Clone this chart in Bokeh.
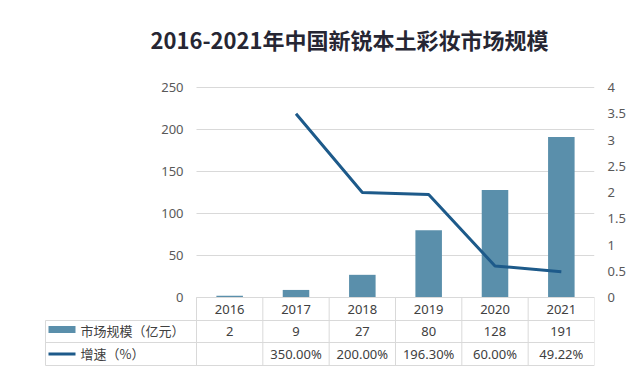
from bokeh.plotting import figure
from bokeh.models import Range1d, LinearAxis, FixedTicker, NumeralTickFormatter
from bokeh.embed import file_html
from bokeh.resources import INLINE
from bokeh.core.properties import value

# ---- data ----
years = [2016, 2017, 2018, 2019, 2020, 2021]
market = [2, 9, 27, 80, 128, 191]
growth_years = [2017, 2018, 2019, 2020, 2021]
growth = [3.5, 2.0, 1.963, 0.6, 0.4922]
left_ticks = [0, 50, 100, 150, 200, 250]
right_ticks = [0, 0.5, 1, 1.5, 2, 2.5, 3, 3.5, 4]
title_text = "2016-2021年中国新锐本土彩妆市场规模"
series_names = ["市场规模（亿元）", "增速（%）"]

# ---- style / layout (pixels in figure space) ----
BAR = "#5a8fab"
LINE = "#1d5a8a"
GRID = "#d9d9d9"
AXTXT = "#595959"
TBLTXT = "#404040"
FONT = "Noto Sans"
CJK = "Noto Sans CJK SC"

W, H = 640, 383
FL, FR = 196, 594      # plot area left/right
FT, FB = 87, 297       # plot area top/bottom
RB = W - FR            # right border for right axis
TBL_L = 45             # table left edge
ROW_PX = [23, 45, 68]  # table row lines below axis (px)

px_x = (FR - FL) / len(years)
x0 = years[0] - 0.5
x1 = years[-1] + 0.5
L0, L1 = left_ticks[0], left_ticks[-1]
R0, R1 = right_ticks[0], right_ticks[-1]
px_l = (FB - FT) / (L1 - L0)
px_r = (FB - FT) / (R1 - R0)

def dx(px):   # figure px -> data x
    return x0 + (px - FL) / px_x

def dy(px):   # figure px (from top) -> left-axis data y
    return L0 + (FB - px) / px_l

p = figure(width=W, height=H,
           x_range=Range1d(dx(0), dx(FR)),
           y_range=Range1d(dy(H), dy(0)),
           output_backend="svg", toolbar_location=None,
           x_axis_location=None, y_axis_location=None,
           min_border_left=0, min_border_top=0, min_border_bottom=0,
           min_border_right=RB)
p.outline_line_color = None
p.grid.visible = False
p.extra_y_ranges = {"g": Range1d(R0 - (H - FB) / px_r, R1 + FT / px_r)}

# gridlines (left-axis ticks)
p.segment(x0=[x0] * len(left_ticks), x1=[x1] * len(left_ticks),
          y0=left_ticks, y1=left_ticks, line_color=GRID, line_width=1)

# left tick labels
p.text(x=[x0] * len(left_ticks), y=left_ticks, text=[str(t) for t in left_ticks],
       x_offset=-13, text_align="right", text_baseline="middle",
       text_font=value(FONT), text_font_size="13px", text_color=AXTXT)

# right axis
ra = LinearAxis(y_range_name="g", ticker=FixedTicker(ticks=right_ticks),
                formatter=NumeralTickFormatter(format="0.[0]"))
ra.axis_line_color = None
ra.major_tick_line_color = None
ra.major_tick_out = 0
ra.major_tick_in = 0
ra.minor_tick_line_color = None
ra.minor_tick_out = 0
ra.major_label_standoff = 13
ra.major_label_text_font = FONT
ra.major_label_text_font_size = "13px"
ra.major_label_text_color = AXTXT
p.add_layout(ra, "right")

# bars and line
p.vbar(x=years, top=market, width=0.4, bottom=L0, fill_color=BAR, line_color=None)
p.line(x=growth_years, y=growth, y_range_name="g", line_color=LINE, line_width=3)

# ---- data table ----
bounds = [y - 0.5 for y in years] + [years[-1] + 0.5]
row_y = [dy(FB + r) for r in ROW_PX]
xL = dx(TBL_L)
# header top line (axis)
p.segment(x0=[x0], x1=[x1], y0=[L0], y1=[L0], line_color=GRID, line_width=1)
# row lines
p.segment(x0=[xL] * len(row_y), x1=[x1] * len(row_y), y0=row_y, y1=row_y,
          line_color=GRID, line_width=1)
# column lines
p.segment(x0=bounds, x1=bounds, y0=[L0] * len(bounds), y1=[row_y[-1]] * len(bounds),
          line_color=GRID, line_width=1)
p.segment(x0=[xL], x1=[xL], y0=[row_y[0]], y1=[row_y[-1]], line_color=GRID, line_width=1)

hdr_c = (L0 + row_y[0]) / 2
r1_c = (row_y[0] + row_y[1]) / 2
r2_c = (row_y[1] + row_y[2]) / 2

p.text(x=years, y=[hdr_c] * len(years), text=[str(y) for y in years],
       text_align="center", text_baseline="middle",
       text_font=value(FONT), text_font_size="13px", text_color=TBLTXT)
p.text(x=years, y=[r1_c] * len(years), text=[str(v) for v in market],
       text_align="center", text_baseline="middle",
       text_font=value(FONT), text_font_size="13px", text_color=TBLTXT)
p.text(x=growth_years, y=[r2_c] * len(growth_years),
       text=[f"{g * 100:.2f}%" for g in growth],
       text_align="center", text_baseline="middle",
       text_font=value(FONT), text_font_size="13px", text_color=TBLTXT)

name_x = dx(80)
p.text(x=[name_x, name_x], y=[r1_c, r2_c], text=series_names,
       text_align="left", text_baseline="middle", y_offset=-1,
       text_font=value(CJK), text_font_size="13px", text_color=TBLTXT)

sw_l, sw_r = dx(48), dx(75)
p.rect(x=[(sw_l + sw_r) / 2], y=[r1_c + 2 / px_l], width=27, height=7,
       width_units="screen", height_units="screen",
       fill_color=BAR, line_color=None)
p.segment(x0=[sw_l], x1=[sw_r], y0=[r2_c], y1=[r2_c], line_color=LINE, line_width=3)

# ---- title ----
p.text(x=[dx(349)], y=[dy(38)], text=[title_text],
       text_align="center", text_baseline="middle",
       text_font=value(CJK), text_font_size="22px", text_font_style="bold",
       text_color="#262633")

open("out.html", "w").write(file_html(p, INLINE))
